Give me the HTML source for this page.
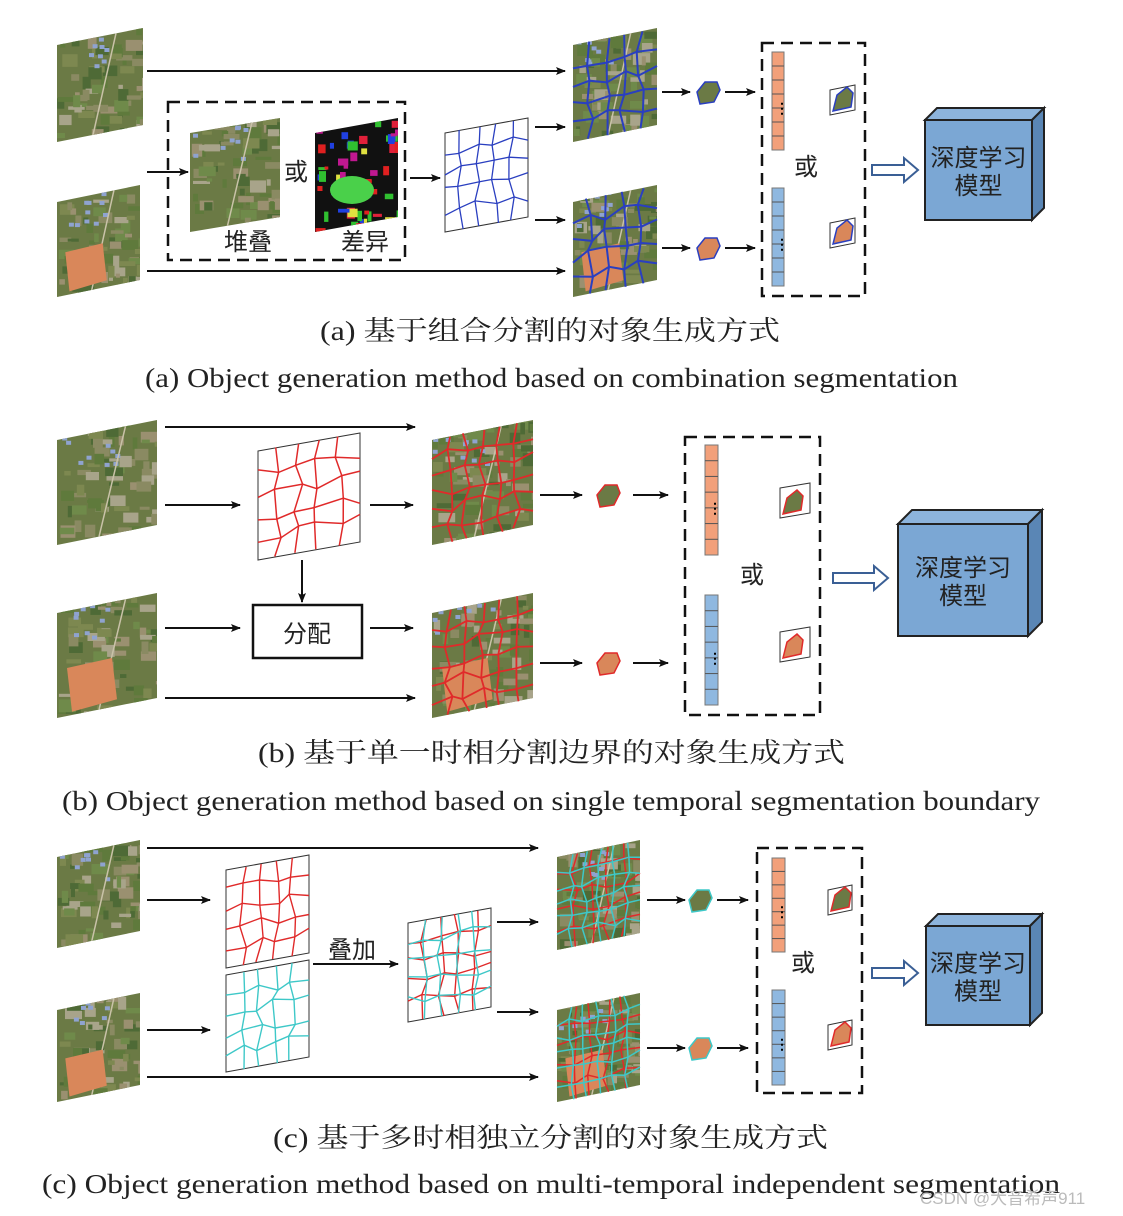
<!DOCTYPE html>
<html><head><meta charset="utf-8"><style>
html,body{margin:0;padding:0;background:#fff;}
svg{display:block}
.cap{font-family:"Liberation Serif","Noto Serif CJK SC",serif;font-size:27px;fill:#222}
.cn{font-family:"Liberation Sans","Noto Sans CJK SC",sans-serif;fill:#222}
</style></head><body>
<svg id="s" width="1123" height="1216" viewBox="0 0 1123 1216" xmlns="http://www.w3.org/2000/svg">
<defs>
<marker id="ah" markerWidth="10" markerHeight="8" refX="9" refY="4" orient="auto" markerUnits="userSpaceOnUse">
<path d="M0,0 L10,4 L0,8 L2,4 z" fill="#111"/></marker>
</defs>
<g id="g"></g>
<!-- captions -->
<text class="cap" x="320" y="340" textLength="460" lengthAdjust="spacingAndGlyphs">(a) 基于组合分割的对象生成方式</text>
<text class="cap" x="145" y="387" textLength="813" lengthAdjust="spacingAndGlyphs">(a) Object generation method based on combination segmentation</text>
<text class="cap" x="258" y="762" textLength="587" lengthAdjust="spacingAndGlyphs">(b) 基于单一时相分割边界的对象生成方式</text>
<text class="cap" x="62" y="810" textLength="978" lengthAdjust="spacingAndGlyphs">(b) Object generation method based on single temporal segmentation boundary</text>
<text class="cap" x="273" y="1147" textLength="555" lengthAdjust="spacingAndGlyphs">(c) 基于多时相独立分割的对象生成方式</text>
<text class="cap" x="42" y="1193" textLength="1018" lengthAdjust="spacingAndGlyphs">(c) Object generation method based on multi-temporal independent segmentation</text>
<text x="920" y="1204" font-family="Liberation Sans,Noto Sans CJK SC,sans-serif" font-size="17" fill="#bbb">CSDN @大音希声911</text>
</svg>
<script>
var G=document.getElementById('g'),out='',cid=0;
var seed=7;function r(){seed=(seed*16807)%2147483647;return seed/2147483647;}
function poly(x,y,w,h,k){return x+','+(y+k)+' '+(x+w)+','+y+' '+(x+w)+','+(y+h-k)+' '+x+','+(y+h);}
function sat(x,y,w,h,k,or){cid++;var s='<clipPath id="c'+cid+'"><polygon points="'+poly(x,y,w,h,k)+'"/></clipPath><g clip-path="url(#c'+cid+')"><rect x="'+x+'" y="'+y+'" width="'+w+'" height="'+h+'" fill="#6b7a45"/>';
var cols=['#5f7a3c','#7d8850','#8a8a62','#4e6a36','#9a9070','#6f8a4a','#a8a48a'];
for(var i=0;i<70;i++){var px=x+r()*w,py=y+r()*h;s+='<rect x="'+px.toFixed(1)+'" y="'+py.toFixed(1)+'" width="'+(4+r()*14).toFixed(1)+'" height="'+(3+r()*10).toFixed(1)+'" fill="'+cols[Math.floor(r()*cols.length)]+'"/>';}
for(i=0;i<10;i++){s+='<rect x="'+(x+r()*w*0.6).toFixed(1)+'" y="'+(y+r()*h*0.35).toFixed(1)+'" width="5" height="4" fill="#8fa3d0"/>';}
s+='<path d="M'+(x+w*0.7)+','+y+' L'+(x+w*0.4)+','+(y+h)+'" stroke="#c9c2a8" stroke-width="1.5" fill="none"/>';
if(or){s+='<polygon points="'+(x+w*0.1)+','+(y+h*0.6)+' '+(x+w*0.55)+','+(y+h*0.52)+' '+(x+w*0.6)+','+(y+h*0.85)+' '+(x+w*0.15)+','+(y+h*0.95)+'" fill="#d9875a"/>';}
s+='</g>';return s;}
function seg(x,y,w,h,k,c,sw,n){var s='',nx=n||5,ny=n||5;var P=[];
for(var i=0;i<=nx;i++){P[i]=[];for(var j=0;j<=ny;j++){var u=i/nx,v=j/ny;var jx=(i>0&&i<nx)?(r()-0.5)*w/nx*0.5:0,jy=(j>0&&j<ny)?(r()-0.5)*h/ny*0.5:0;
var px=x+u*w+jx,py=y+k*(1-u)+v*(h-k)+jy;P[i][j]=[px,py];}}
for(i=1;i<nx;i++){s+='<polyline points="';for(j=0;j<=ny;j++)s+=P[i][j][0].toFixed(1)+','+P[i][j][1].toFixed(1)+' ';s+='" fill="none" stroke="'+c+'" stroke-width="'+sw+'"/>';}
for(j=1;j<ny;j++){s+='<polyline points="';for(i=0;i<=nx;i++)s+=P[i][j][0].toFixed(1)+','+P[i][j][1].toFixed(1)+' ';s+='" fill="none" stroke="'+c+'" stroke-width="'+sw+'"/>';}
return s;}
function frame(x,y,w,h,k){return '<polygon points="'+poly(x,y,w,h,k)+'" fill="#fff" stroke="#333" stroke-width="1"/>';}
function ar(x1,y1,x2,y2){return '<line x1="'+x1+'" y1="'+y1+'" x2="'+x2+'" y2="'+y2+'" stroke="#111" stroke-width="2" marker-end="url(#ah)"/>';}
function blob(x,y,c,or){return '<path d="M'+x+','+(y+8)+' l8,-10 l12,0 l3,8 l-6,12 l-14,2 z" fill="'+(or?'#d9875a':'#6b7a45')+'" stroke="'+c+'" stroke-width="1.5"/>';}
function small(x,y,w,h,c,or){return '<polygon points="'+poly(x,y,w,h,5)+'" fill="#fff" stroke="#333"/>'+'<path d="M'+(x+3)+','+(y+h-4)+' l4,-16 l10,-8 l6,6 l-2,14 z" fill="'+(or?'#d9875a':'#6b7a45')+'" stroke="'+c+'" stroke-width="1.5"/>';}
function bar(x,y,w,h,c){var s='<rect x="'+x+'" y="'+y+'" width="'+w+'" height="'+h+'" fill="'+c+'" stroke="#777"/>';for(var i=1;i<7;i++){var yy=y+h*i/7;s+='<line x1="'+x+'" x2="'+(x+w)+'" y1="'+yy+'" y2="'+yy+'" stroke="#555"/>';}
s+='<text x="'+(x+3)+'" y="'+(y+h*0.62)+'" font-size="14" font-weight="bold">⋮</text>';return s;}
function hollow(x,y,len){return '<path d="M'+x+','+(y-5)+' h'+(len-14)+' v-7 l14,12 l-14,12 v-7 h-'+(len-14)+' z" fill="#fff" stroke="#3a5f95" stroke-width="2"/>';}
function box(x,y,w,h,d,fs){return '<polygon points="'+x+','+y+' '+(x+d)+','+(y-d)+' '+(x+w+d)+','+(y-d)+' '+(x+w)+','+y+'" fill="#8db4dc" stroke="#222" stroke-width="2"/>'+
'<polygon points="'+(x+w)+','+y+' '+(x+w+d)+','+(y-d)+' '+(x+w+d)+','+(y+h-d)+' '+(x+w)+','+(y+h)+'" fill="#5a86b5" stroke="#222" stroke-width="2"/>'+
'<rect x="'+x+'" y="'+y+'" width="'+w+'" height="'+h+'" fill="#7ba7d4" stroke="#222" stroke-width="2"/>'+
'<text class="cn" x="'+(x+w/2)+'" y="'+(y+h/2-4)+'" font-size="'+fs+'" text-anchor="middle">深度学习</text><text class="cn" x="'+(x+w/2)+'" y="'+(y+h/2+fs)+'" font-size="'+fs+'" text-anchor="middle">模型</text>';}
function dash(x,y,w,h){return '<rect x="'+x+'" y="'+y+'" width="'+w+'" height="'+h+'" fill="none" stroke="#111" stroke-width="2.5" stroke-dasharray="12,7"/>';}
function t(x,y,s,fs){return '<text class="cn" x="'+x+'" y="'+y+'" font-size="'+fs+'" text-anchor="middle">'+s+'</text>';}
var B='#2a3fc0',R='#e02a2a',C='#3ec8c8';
// ---- (a)
out+=sat(57,28,86,114,17,0)+sat(57,185,83,112,17,1);
out+=ar(147,71,565,71)+ar(147,271,565,271)+ar(147,172,188,172);
out+=dash(168,102,237,158);
out+=sat(190,118,90,114,15,0);
cid++;out+='<clipPath id="c'+cid+'"><polygon points="'+poly(315,118,83,114,15)+'"/></clipPath><g clip-path="url(#c'+cid+')"><rect x="315" y="118" width="83" height="114" fill="#111"/>';
for(var i=0;i<60;i++){out+='<rect x="'+(315+r()*83).toFixed(1)+'" y="'+(118+r()*114).toFixed(1)+'" width="'+(3+r()*9).toFixed(1)+'" height="'+(3+r()*8).toFixed(1)+'" fill="'+['#e0203a','#c01890','#30c030','#e0e040','#2040e0','#e02020'][Math.floor(r()*6)]+'"/>';}
out+='<ellipse cx="352" cy="190" rx="22" ry="14" fill="#4ad04a"/></g>';
out+=t(296,180,'或',24)+t(248,250,'堆叠',24)+t(365,250,'差异',24);
out+=ar(410,178,440,178);
out+=frame(445,118,83,114,15)+seg(445,118,83,114,15,B,1.3,5);
out+=ar(535,127,565,127)+ar(535,220,565,220);
out+=sat(573,28,84,114,17,0)+seg(573,28,84,114,17,B,2,5)+sat(573,185,84,112,17,1)+seg(573,185,84,112,17,B,2,5);
out+=ar(662,92,690,92)+blob(697,84,B,0)+ar(725,92,755,92);
out+=ar(662,248,690,248)+blob(697,240,B,1)+ar(725,248,755,248);
out+=dash(762,43,103,253)+bar(772,52,12,98,'#f2a07a')+bar(772,188,12,98,'#8fb8e0')+t(806,175,'或',24);
out+=small(830,85,25,30,B,0)+small(830,218,25,30,B,1);
out+=hollow(872,170,46)+box(925,120,107,100,12,24);
// ---- (b)
out+=sat(57,420,100,125,20,0)+sat(57,593,100,125,20,1);
out+=ar(165,427,415,427)+ar(165,505,240,505)+ar(165,628,240,628)+ar(165,698,415,698);
out+=frame(258,433,102,127,18)+seg(258,433,102,127,18,R,1.5,5);
out+=ar(302,560,302,602);
out+='<rect x="253" y="605" width="109" height="53" fill="#fff" stroke="#111" stroke-width="2.5"/>'+t(307,642,'分配',24);
out+=ar(370,505,413,505)+ar(370,628,413,628);
out+=sat(432,420,101,125,20,0)+seg(432,420,101,125,20,R,1.8,6)+sat(432,593,101,125,20,1)+seg(432,593,101,125,20,R,1.8,6);
out+=ar(540,495,582,495)+blob(597,487,R,0)+ar(633,495,668,495);
out+=ar(540,663,582,663)+blob(597,655,R,1)+ar(633,663,668,663);
out+=dash(685,437,135,278)+bar(705,445,13,110,'#f2a07a')+bar(705,595,13,110,'#8fb8e0')+t(752,583,'或',24);
out+=small(780,483,30,35,R,0)+small(780,627,30,35,R,1);
out+=hollow(833,578,55)+box(898,524,130,112,14,24);
// ---- (c)
out+=sat(57,840,83,108,17,0)+sat(57,993,83,109,17,1);
out+=ar(147,848,538,848)+ar(147,1077,538,1077)+ar(147,900,210,900)+ar(147,1030,210,1030);
out+=frame(226,855,83,113,15)+seg(226,855,83,113,15,R,1.4,5);
out+=frame(226,960,83,112,15)+seg(226,960,83,112,15,C,1.4,5);
out+=t(352,958,'叠加',24)+ar(313,964,398,964);
out+=frame(408,908,83,114,15)+seg(408,908,83,114,15,R,1.4,5)+seg(408,908,83,114,15,C,1.4,5);
out+=ar(497,922,538,922)+ar(497,1012,538,1012);
out+=sat(557,840,83,110,17,0)+seg(557,840,83,110,17,R,1.5,5)+seg(557,840,83,110,17,C,1.5,6);
out+=sat(557,993,83,109,17,1)+seg(557,993,83,109,17,R,1.5,5)+seg(557,993,83,109,17,C,1.5,6);
out+=ar(647,900,685,900)+blob(689,892,C,0)+ar(717,900,748,900);
out+=ar(647,1048,685,1048)+blob(689,1040,C,1)+ar(717,1048,748,1048);
out+=dash(757,848,105,245)+bar(772,858,13,94,'#f2a07a')+bar(772,990,13,95,'#8fb8e0')+t(803,971,'或',24);
out+=small(828,885,24,30,R,0)+small(828,1020,24,30,R,1);
out+=hollow(872,973,46)+box(926,926,104,99,12,24);
G.innerHTML=out;
</script>
</body></html>
